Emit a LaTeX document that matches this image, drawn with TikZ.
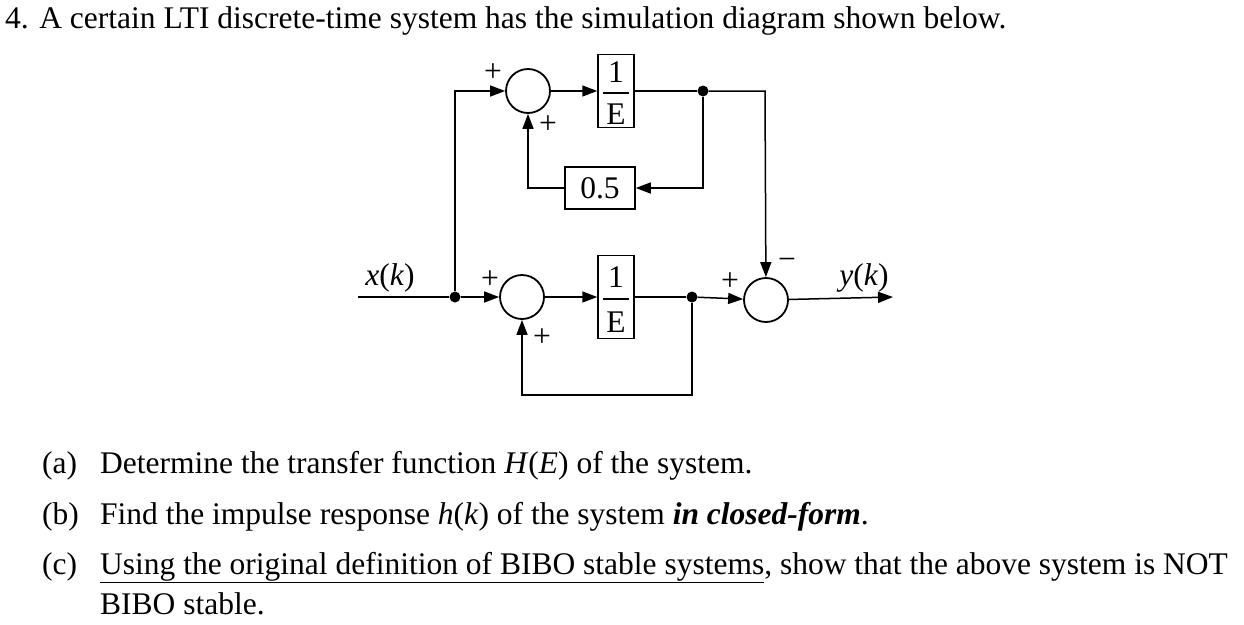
\documentclass[tikz,border=0pt]{standalone}
\usepackage{fontspec}
\setmainfont{Liberation Serif}
\usetikzlibrary{arrows.meta}
\begin{document}
\begin{tikzpicture}[x=1pt,y=-1pt,
  txt/.style={inner sep=0pt,font=\fontsize{31.5}{36}\selectfont},
  sum/.style={circle,draw,line width=1.8pt,minimum size=44pt,inner sep=0pt},
  blk/.style={draw,line width=1.5pt,inner sep=0pt},
  ln/.style={line width=1.5pt},
  ar/.style={ln,-{Triangle[length=15pt,width=11pt]}},
  dot/.style={circle,fill,inner sep=0pt,minimum size=11pt}]
\useasboundingbox (0,0) rectangle (1244,624);
\node[txt,anchor=base west] (title) at (5,28) {4. A certain LTI discrete-time system has the simulation diagram shown below.};
% top
\node[sum] (s1) at (528,91) {};
\node[blk,minimum width=36pt,minimum height=73pt] (b1) at (616,91) {};
\node[txt] (b1n) at (616,72) {1};
\node[txt] (b1d) at (616,114) {E};
\draw[ln] (603,93) -- (629,93);
\node[blk,minimum width=70pt,minimum height=42pt,txt] (g) at (600,188) {0.5};
\node[dot] (d1) at (703,91) {};
% bottom
\node[sum] (s2) at (522,297) {};
\node[blk,minimum width=36pt,minimum height=83pt] (b2) at (616,297) {};
\node[txt] (b2n) at (616,277) {1};
\node[txt] (b2d) at (616,322) {E};
\draw[ln] (603,299) -- (629,299);
\node[dot] (d2) at (692,297) {};
\node[dot] (d0) at (455,297) {};
\node[sum] (s3) at (766,300) {};
\coordinate (xin) at (358,297);
\coordinate (yout) at (893,297);
% connections
\draw[ln] (xin) -- (d0);
\draw[ar] (d0) -- (s2);
\draw[ar] (d0) |- (s1);
\draw[ar] (s1) -- (b1);
\draw[ln] (b1) -- (d1);
\draw[ar] (d1) -- (765,91) -- (s3);
\draw[ar] (d1) |- (g);
\draw[ar] (g) -| (s1);
\draw[ar] (s2) -- (b2);
\draw[ln] (b2) -- (d2);
\draw[ar] (d2) -- (s3);
\draw[ar] (d2) -- (692,395) -| (s2);
\draw[ar] (s3) -- (yout);
% signs and labels
\node[txt] (p1) at (493,73) {+};
\node[txt] (p2) at (548,125) {+};
\node[txt] (p3) at (490,280) {+};
\node[txt] (p4) at (542,338) {+};
\node[txt] (p5) at (730,282) {+};
\node[txt] (m1) at (787,264) {\textminus};
\node[txt] (xl) at (390,278) {\textit{x}(\textit{k})};
\node[txt] (yl) at (864,278) {\textit{y}(\textit{k})};
% questions
\node[txt,anchor=base west] (qa) at (42,473) {(a)};
\node[txt,anchor=base west] (ta) at (100,473) {Determine the transfer function \textit{H}(\textit{E}) of the system.};
\node[txt,anchor=base west] (qb) at (42,524) {(b)};
\node[txt,anchor=base west] (tb) at (100,524) {Find the impulse response \textit{h}(\textit{k}) of the system \textbf{\textit{in closed-form}}.};
\node[txt,anchor=base west] (qc) at (42,574) {(c)};
\node[txt,anchor=base west] (tc) at (100,574) {\underline{Using the original definition of BIBO stable systems}, show that the above system is NOT};
\node[txt,anchor=base west] (tc2) at (100,614) {BIBO stable.};
\end{tikzpicture}
\end{document}
